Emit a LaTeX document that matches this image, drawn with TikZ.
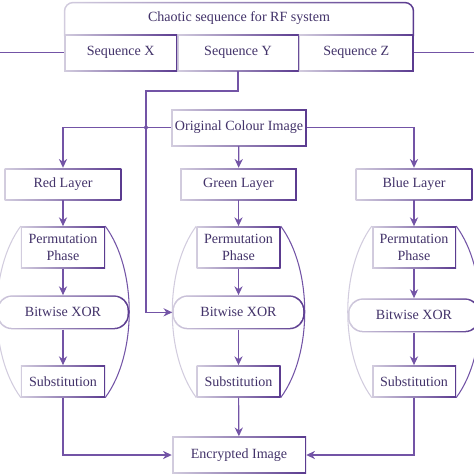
\documentclass[tikz,border=0pt]{standalone}
\usepackage{fontspec}
\setmainfont{Liberation Serif}
\usepackage{tikz}
\usetikzlibrary{shapes.geometric, arrows.meta, backgrounds, positioning}
\definecolor{boxlight}{HTML}{D2CCDE}
\definecolor{boxdark}{HTML}{5A3A8F}
\definecolor{linec}{HTML}{7354A6}
\definecolor{textc}{HTML}{43336A}
\tikzstyle{block} = [rectangle, minimum width=3.5cm, minimum height=0.96cm, text centered, left color=boxlight, right color=boxdark, text=textc, path picture={\fill[white] ([shift={(0.045,0.045)}]path picture bounding box.south west) rectangle ([shift={(-0.045,-0.045)}]path picture bounding box.north east);}]
\tikzstyle{phase} = [block, minimum width=2.52cm, minimum height=1.26cm, align=center]
\tikzstyle{xorbox} = [block, rounded corners=0.45cm, minimum width=3.96cm, minimum height=1.02cm, path picture={\fill[white, rounded corners=0.41cm] ([shift={(0.045,0.045)}]path picture bounding box.south west) rectangle ([shift={(-0.045,-0.045)}]path picture bounding box.north east);}]
\tikzstyle{arrow} = [line width=1pt, draw=linec, ->, >={Stealth[length=7.5pt,width=7pt]}]
\tikzstyle{line} = [line width=1pt, draw=linec]
\tikzstyle{bowl} = [line width=0.9pt]

\begin{document}
\begin{tikzpicture}[node distance=2cm, font=\fontsize{12}{14}\selectfont]
\clip (0,0) rectangle (14.22,-14.22);

\node (title) [minimum width=10.5cm, minimum height=0.96cm, text=textc] at (7.17,-0.54) {Chaotic sequence for RF system};
\node (seqy) [block, minimum width=3.66cm, minimum height=1.11cm] at (7.14,-1.575) {Sequence Y};
\node (seqx) [block, minimum width=3.39cm, minimum height=1.11cm, left=-0.02cm of seqy] {Sequence X};
\node (seqz) [block, minimum width=3.45cm, minimum height=1.11cm, right=-0.02cm of seqy] {Sequence Z};
\node (orig) [block, minimum width=4.02cm, minimum height=1.11cm] at (7.17,-3.825) {Original Colour Image};
\node (lay1) [block] at (1.89,-5.52) {Red Layer};
\node (lay2) [block] at (7.155,-5.52) {Green Layer};
\node (lay3) [block] at (12.42,-5.52) {Blue Layer};
\node (perm1) [phase, below of=lay1, yshift=0.1cm] {Permutation\\Phase};
\node (perm2) [phase, below of=lay2, yshift=0.1cm] {Permutation\\Phase};
\node (perm3) [phase, below of=lay3, yshift=0.1cm] {Permutation\\Phase};
\node (xor1) [xorbox, below of=perm1, yshift=0.05cm] {Bitwise XOR};
\node (xor2) [xorbox, below of=perm2, yshift=0.05cm] {Bitwise XOR};
\node (xor3) [xorbox, below of=perm3, yshift=-0.04cm] {Bitwise XOR};
\node (sub1) [block, minimum width=2.52cm, below of=xor1, yshift=-0.07cm] {Substitution};
\node (sub2) [block, minimum width=2.52cm, below of=xor2, yshift=-0.07cm] {Substitution};
\node (sub3) [block, minimum width=2.52cm, below of=xor3, yshift=0.02cm] {Substitution};
\node (enc) [block, minimum width=4.02cm, minimum height=1.11cm] at (7.17,-13.65) {Encrypted Image};

\coordinate (lend) at (0,-1.575);
\coordinate (rend) at (14.22,-1.575);
\coordinate (ykink) at (4.38,-2.73);

\draw [line] (seqx.west) -- (lend);
\draw [line] (seqz.east) -- (rend);
\draw [arrow] (seqy.south) |- (ykink) |- (xor2.west);
\fill [linec] (ykink |- orig.west) circle (0.06);
\draw [arrow] (orig.west) -| (lay1.north);
\draw [arrow] (orig.east) -| (lay3.north);
\draw [arrow] (orig) -- (lay2);
\draw [arrow] (lay1) -- (perm1);
\draw [arrow] (lay2) -- (perm2);
\draw [arrow] (lay3) -- (perm3);
\draw [arrow] (perm1) -- (xor1);
\draw [arrow] (perm2) -- (xor2);
\draw [arrow] (perm3) -- (xor3);
\draw [arrow] (xor1) -- (sub1);
\draw [arrow] (xor2) -- (sub2);
\draw [arrow] (xor3) -- (sub3);
\draw [arrow] (sub1.south) |- (enc.west);
\draw [arrow] (sub2) -- (enc);
\draw [arrow] (sub3.south) |- (enc.east);

\begin{scope}[on background layer]
% frame of the title
\shade [left color=boxlight, right color=boxdark, rounded corners=8pt] ([yshift=-0.3cm]title.south west) rectangle (title.north east);
\fill [white, rounded corners=7pt] ([shift={(0.045,-0.3)}]title.south west) rectangle ([shift={(-0.045,-0.045)}]title.north east);
\draw [bowl, boxlight] (perm1.north west) .. controls +(-0.96,-1.3) and +(-0.96,1.3) .. (sub1.south west);
\draw [bowl, linec] (perm1.north east) .. controls +(0.96,-1.3) and +(0.96,1.3) .. (sub1.south east);
\draw [bowl, boxlight] (perm2.north west) .. controls +(-0.96,-1.3) and +(-0.96,1.3) .. (sub2.south west);
\draw [bowl, linec] (perm2.north east) .. controls +(0.96,-1.3) and +(0.96,1.3) .. (sub2.south east);
\draw [bowl, boxlight] (perm3.north west) .. controls +(-0.96,-1.3) and +(-0.96,1.3) .. (sub3.south west);
\draw [bowl, linec] (perm3.north east) .. controls +(0.96,-1.3) and +(0.96,1.3) .. (sub3.south east);
\end{scope}

\end{tikzpicture}
\end{document}
